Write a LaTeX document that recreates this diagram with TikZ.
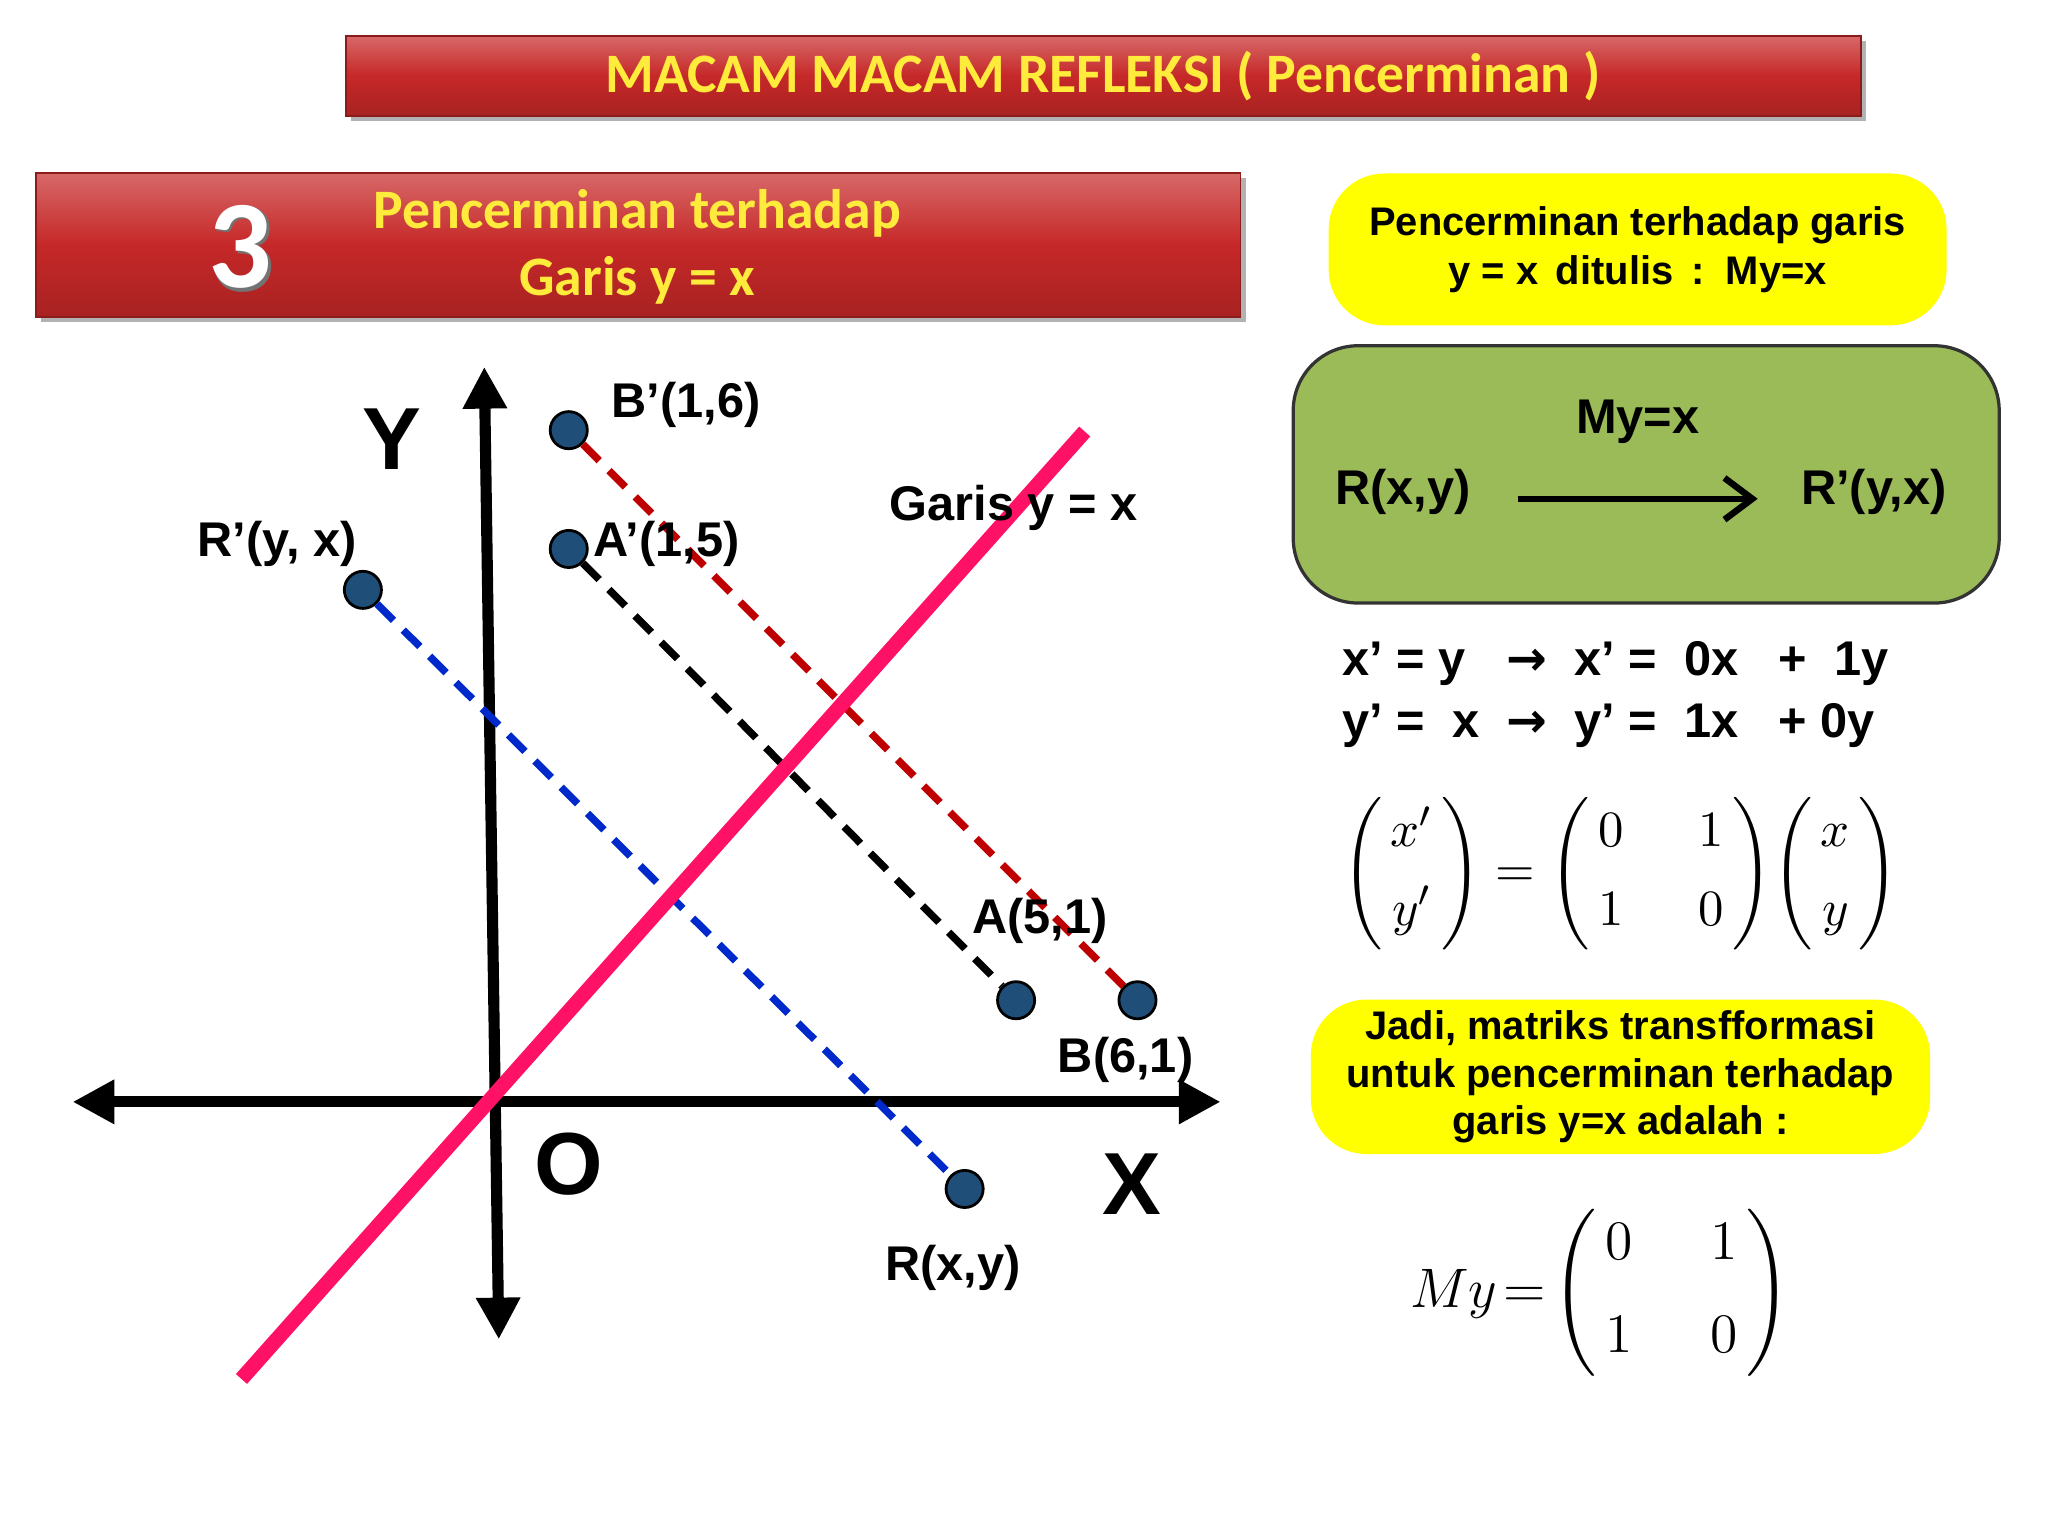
\documentclass[tikz,border=0pt]{standalone}
\usepackage{fontspec}
\usepackage{amsmath}
\setmainfont{Liberation Sans}
\newfontfamily\carlitofont{Carlito}
\newfontfamily\dejafont{DejaVu Sans}
\usetikzlibrary{arrows.meta}
\definecolor{ban}{HTML}{C62828}
\definecolor{banY}{HTML}{FFEB3B}
\definecolor{yel}{HTML}{FFFF00}
\definecolor{grn}{HTML}{9BBB59}
\definecolor{pink}{HTML}{FF1166}
\definecolor{pt}{HTML}{1F4E79}
\tikzset{
 banner/.style={draw=ban!70!black,top color=ban!70!white,bottom color=ban!85!black,middle color=ban},
 shadow/.style={fill=black!30},
 btxt/.style={text=banY,font=\carlitofont\bfseries\fontsize{12}{14.5}\selectfont,align=center},
 ybox/.style={fill=yel,rounded corners=12pt,inner sep=1pt},
 lbl/.style={font=\bfseries\fontsize{10.5}{13}\selectfont},
 big/.style={font=\bfseries\fontsize{19}{22}\selectfont},
 dot/.style={circle,draw=black,fill=pt,minimum size=8pt,inner sep=0pt,line width=0.6pt},
 axis/.style={line width=2.4pt,{Triangle[length=9pt,width=9pt]}-{Triangle[length=9pt,width=9pt]}},
 dsh/.style={line width=1.6pt,dash pattern=on 5pt off 3pt},
 mtx/.style={font=\fontsize{11}{13}\selectfont},
}
\begin{document}
\begin{tikzpicture}[x=0.01cm,y=-0.01cm]
\useasboundingbox (0,0) rectangle (1552,1164);
% banners
\fill[shadow] (266,31) rectangle (1414,92);
\path[banner] (262,27) rectangle (1410,88);
\node[btxt] (t1) at (836,58) {MACAM MACAM REFLEKSI ( Pencerminan )};
\fill[shadow] (31,135) rectangle (944,244);
\path[banner] (27,131) rectangle (940,240);
\node[font=\carlitofont\bfseries\fontsize{28}{30}\selectfont,text=black!55] (n3s) at (184,189) {3};
\node[font=\carlitofont\bfseries\fontsize{27}{30}\selectfont,text=white] (n3) at (182,187) {3};
\node[btxt] (t2) at (483,187) {Pencerminan terhadap\\Garis y = x};
% yellow box top
\node[ybox,minimum width=4.68cm,minimum height=1.15cm,font=\bfseries\fontsize{8.6}{10.5}\selectfont,align=center] (yb1) at (1241,189) {Pencerminan terhadap garis\\y = x\, ditulis\, :\, My=x};
% green box
\draw[fill=grn,draw=black!80,line width=0.7pt,rounded corners=14pt] (980,262) rectangle (1515,457);
\node[lbl] (my) at (1241,320) {My=x};
\node[lbl] (rxy) at (1063,373) {R(x,y)};
\node[lbl] (ryx) at (1420,373) {R’(y,x)};
\coordinate (a1) at (1150,378); \coordinate (a2) at (1332,378);
\draw[line width=1.4pt,-{Straight Barb[length=6pt,width=9pt]}] (a1) -- (a2);
% equations
\node[lbl,anchor=west] (e1) at (1005,503) {x’ = y\ \ \ {\dejafont\bfseries →}\ \ x’ =\ \ 0x\ \ \ +\ \ 1y};
\node[lbl,anchor=west] (e2) at (1005,550) {y’ =\ \ x\ \ {\dejafont\bfseries →}\ \ y’ =\ \ 1x\ \ \ + 0y};
\node[mtx] (mat) at (1228,662) {$\left(\begin{array}{@{\,}c@{\,}} x'\\[4pt] y'\end{array}\right)=\left(\begin{array}{@{\,}cc@{\,}}0 & \;\;1\\[4pt] 1 & \;\;0\end{array}\right)\!\left(\begin{array}{@{\,}c@{\,}}x\\[4pt] y\end{array}\right)$};
\node[ybox,minimum width=4.69cm,minimum height=1.17cm,font=\bfseries\fontsize{8.6}{10.2}\selectfont,align=center] (yb2) at (1228,816) {Jadi, matriks transfformasi\\untuk pencerminan terhadap\\garis y=x adalah :};
\node[font=\fontsize{12}{14}\selectfont] (my2) at (1213,980) {$My\!=\!\left(\begin{array}{@{\,}cc@{\,}}0 & \;\;1\\[6pt] 1 & \;\;0\end{array}\right)$};
% axes
\coordinate (yb) at (378,1015); \coordinate (yt) at (367,278);
\coordinate (xl) at (55,835); \coordinate (xr) at (925,835);
\draw[axis] (yb) -- (yt);
\draw[axis] (xl) -- (xr);
\node[big] (Y) at (297,333) {Y};
\node[big] (O) at (431,882) {O};
\node[big] (X) at (858,897) {X};
% points
\node[dot] (Bp) at (431,326) {};
\node[dot] (Ap) at (431,416) {};
\node[dot] (Rp) at (275,447) {};
\node[dot] (A) at (770,758) {};
\node[dot] (B) at (862,758) {};
\node[dot] (R) at (731,901) {};
\draw[dsh,draw=red!75!black] (Bp) -- (B);
\draw[dsh,draw=black] (Ap) -- (A);
\draw[dsh,draw=blue!80!cyan!80!black] (Rp) -- (R);
% line y=x
\coordinate (g1) at (183,1045); \coordinate (g2) at (822,327);
\draw[pink,line width=3.2pt] (g1) -- (g2);
% labels
\node[lbl] (lBp) at (520,307) {B’(1,6)};
\node[lbl] (lAp) at (505,412) {A’(1,5)};
\node[lbl] (lRp) at (210,412) {R’(y, x)};
\node[lbl] (lA) at (788,698) {A(5,1)};
\node[lbl] (lB) at (853,803) {B(6,1)};
\node[lbl] (lR) at (722,961) {R(x,y)};
\node[lbl] (lg) at (768,385) {Garis y = x};
\end{tikzpicture}
\end{document}
